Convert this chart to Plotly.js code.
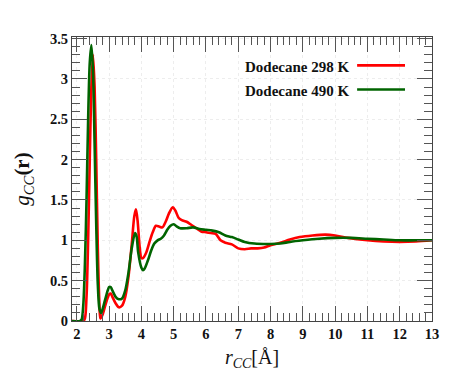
<!DOCTYPE html>
<html><head><meta charset="utf-8">
<script src="https://cdn.plot.ly/plotly-3.0.1.min.js"></script>
<style>html,body{margin:0;padding:0;background:#fff;}#chart{width:474px;height:383px;}</style>
</head><body><div id="chart"></div>
<script>
const seriesNames = ["Dodecane 298 K", "Dodecane 490 K"];
const r298 = [1.85,2.2,2.25,2.3,2.35,2.4,2.45,2.5,2.55,2.6,2.65,2.7,2.73,2.8,2.9,3.0,3.05,3.1,3.2,3.3,3.4,3.5,3.6,3.7,3.78,3.83,3.88,3.95,4.0,4.05,4.15,4.25,4.35,4.45,4.55,4.65,4.75,4.85,4.97,5.05,5.15,5.25,5.4,5.55,5.7,5.85,6.0,6.15,6.3,6.45,6.6,6.8,7.0,7.2,7.4,7.6,7.8,8.0,8.3,8.6,8.9,9.3,9.7,10.0,10.4,11.0,11.5,12.0,12.5,13.0];
const g298 = [0,0,0.03,0.3,1.0,2.0,2.9,3.3,2.9,2.0,0.9,0.2,0.03,0.08,0.22,0.33,0.34,0.3,0.22,0.17,0.19,0.3,0.55,0.95,1.3,1.385,1.25,0.9,0.78,0.78,0.85,0.98,1.1,1.18,1.17,1.16,1.23,1.33,1.41,1.37,1.28,1.25,1.23,1.19,1.15,1.11,1.1,1.09,1.08,1.0,0.97,0.95,0.9,0.89,0.9,0.9,0.91,0.94,0.97,1.01,1.04,1.06,1.07,1.06,1.03,1.0,0.985,0.98,0.985,1.0];
const r490 = [1.85,2.1,2.15,2.2,2.25,2.3,2.35,2.4,2.45,2.5,2.55,2.6,2.65,2.7,2.75,2.8,2.9,3.0,3.05,3.1,3.2,3.3,3.4,3.5,3.6,3.7,3.8,3.85,3.9,4.0,4.05,4.1,4.2,4.3,4.4,4.5,4.6,4.7,4.8,4.9,5.0,5.1,5.2,5.4,5.6,5.8,6.0,6.2,6.4,6.6,6.8,7.0,7.2,7.5,8.0,8.3,8.6,9.0,9.5,10.0,10.5,11.0,11.5,12.0,12.5,13.0];
const g490 = [0,0,0.02,0.2,0.7,1.5,2.5,3.2,3.42,3.1,2.2,1.2,0.45,0.15,0.1,0.15,0.3,0.42,0.42,0.38,0.3,0.27,0.28,0.38,0.6,0.9,1.09,1.05,0.85,0.66,0.63,0.65,0.75,0.87,0.96,1.0,1.02,1.06,1.13,1.18,1.2,1.17,1.15,1.15,1.16,1.14,1.13,1.12,1.1,1.06,1.04,1.01,0.98,0.96,0.955,0.96,0.98,1.0,1.02,1.03,1.03,1.02,1.01,1.0,1.0,1.0];
const xTicks = [2,3,4,5,6,7,8,9,10,11,12,13];
const yTicks = [0,0.5,1,1.5,2,2.5,3,3.5];
const yTickText = ["0","0.5","1","1.5","2","2.5","3","3.5"];
const colors = ["#ff0000", "#006400"];

const F = "'Times New Roman', 'Liberation Serif', 'DejaVu Serif', serif";
const traces = [
  {x: r298, y: g298, name: seriesNames[0], mode: "lines", line: {color: colors[0], width: 2.6, shape: "spline", smoothing: 0.8}},
  {x: r490, y: g490, name: seriesNames[1], mode: "lines", line: {color: colors[1], width: 2.6, shape: "spline", smoothing: 0.8}}
];
const axisCommon = {
  showline: true, linecolor: "#444", linewidth: 1, mirror: "allticks",
  ticks: "inside", ticklen: 15, tickcolor: "#555", tickwidth: 1,
  showgrid: true, gridcolor: "#ededed", griddash: "dot", gridwidth: 1,
  zeroline: false,
  tickfont: {family: F, size: 14.5, color: "#111", weight: "bold"}
};
const layout = {
  width: 474, height: 383,
  margin: {l: 72, r: 42, t: 37, b: 62},
  paper_bgcolor: "#fff", plot_bgcolor: "#fff",
  font: {family: F},
  showlegend: false,
  xaxis: Object.assign({}, axisCommon, {
    range: [1.85, 13], tickvals: xTicks, ticktext: xTicks.map(String),
    minor: {dtick: 0.2, tick0: 0, ticks: "inside", ticklen: 8, tickcolor: "#555", showgrid: false},
    title: {text: "<i>r</i><sub><i>CC</i></sub>[Å]", font: {family: F, size: 20, color: "#111"}, standoff: 8}
  }),
  yaxis: Object.assign({}, axisCommon, {
    range: [0, 3.52], tickvals: yTicks, ticktext: yTickText,
    minor: {dtick: 0.1, tick0: 0, ticks: "inside", ticklen: 8, tickcolor: "#555", showgrid: false},
    title: {text: "<i>g</i><sub><i>CC</i></sub><b>(r)</b>", font: {family: F, size: 21, color: "#111"}, standoff: 14}
  }),
  annotations: [
    {xref: "paper", yref: "paper", x: 0.474, y: 0.895, xanchor: "left", yanchor: "middle", text: "<b>" + seriesNames[0] + "</b>", showarrow: false, font: {family: F, size: 15, color: "#111"}},
    {xref: "paper", yref: "paper", x: 0.474, y: 0.81, xanchor: "left", yanchor: "middle", text: "<b>" + seriesNames[1] + "</b>", showarrow: false, font: {family: F, size: 15, color: "#111"}}
  ],
  shapes: [
    {type: "line", xref: "paper", yref: "paper", x0: 0.792, x1: 0.925, y0: 0.9, y1: 0.9, line: {color: colors[0], width: 2.6}},
    {type: "line", xref: "paper", yref: "paper", x0: 0.792, x1: 0.925, y0: 0.815, y1: 0.815, line: {color: colors[1], width: 2.6}}
  ]
};
Plotly.newPlot("chart", traces, layout, {displayModeBar: false, staticPlot: true});
</script></body></html>
